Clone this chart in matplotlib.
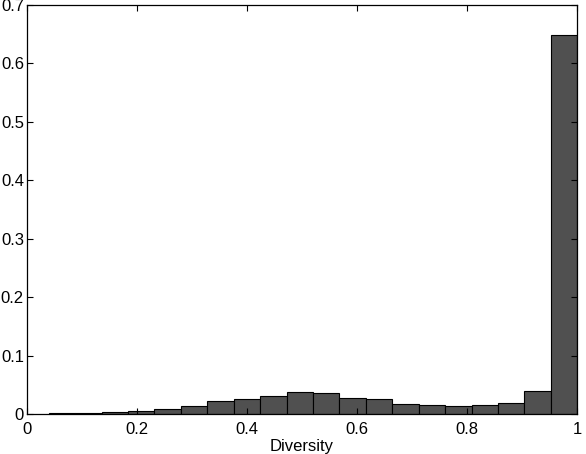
import numpy as np
import matplotlib
matplotlib.use("Agg")
import matplotlib.pyplot as plt

plt.rcParams['font.family'] = ['Liberation Sans', 'DejaVu Sans']

bin_edges = np.linspace(0.04, 1.0, 21)
freq = [0.0015, 0.0018, 0.004, 0.005, 0.0086, 0.0137, 0.022, 0.0257, 0.031, 0.0376,
        0.036, 0.0274, 0.0257, 0.017, 0.0154, 0.0137, 0.0154, 0.0188, 0.039, 0.649]
x_ticks = [0, 0.2, 0.4, 0.6, 0.8, 1]
x_labels = ['0', '0.2', '0.4', '0.6', '0.8', '1']
y_ticks = [0, 0.1, 0.2, 0.3, 0.4, 0.5, 0.6, 0.7]
y_labels = ['0', '0.1', '0.2', '0.3', '0.4', '0.5', '0.6', '0.7']

fig = plt.figure(figsize=(5.86, 4.54), dpi=100)
ax = fig.add_axes([0.0456, 0.0881, 0.9394, 0.9009])
widths = np.diff(bin_edges)
ax.bar(bin_edges[:-1], freq, width=widths, align='edge', color='#505050',
       edgecolor='black', linewidth=0.8)
ax.set_xlim(0, 1)
ax.set_ylim(0, 0.7)
ax.set_xticks(x_ticks)
ax.set_xticklabels(x_labels)
ax.set_yticks(y_ticks)
ax.set_yticklabels(y_labels)
ax.tick_params(direction='in', top=True, right=True, length=4, width=0.8,
               labelsize=12)
ax.tick_params(axis='x', pad=6)
ax.tick_params(axis='y', pad=2)
for s in ax.spines.values():
    s.set_linewidth(0.9)
ax.set_xlabel('Diversity', fontsize=12, labelpad=1)
fig.savefig('out.png', dpi=100)
